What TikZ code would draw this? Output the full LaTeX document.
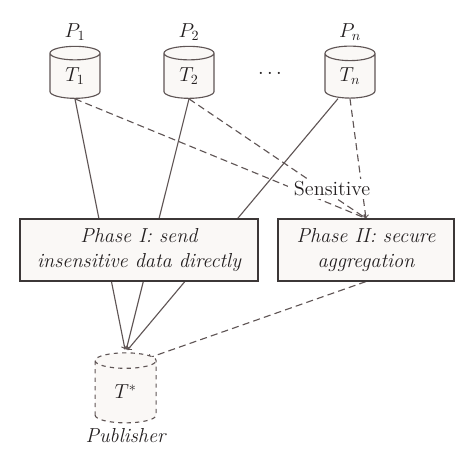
\documentclass[tikz,border=0pt]{standalone}
\usepackage{tikz}
\usetikzlibrary{shapes.geometric,positioning,arrows,calc}
\pgfdeclarelayer{background}
\pgfsetlayers{background,main}
\definecolor{linegray}{RGB}{95,85,85}
\definecolor{boxline}{RGB}{60,55,55}
\definecolor{boxfill}{RGB}{250,248,246}
\definecolor{inkdark}{RGB}{35,31,32}
\tikzset{
  db/.style={cylinder, shape border rotate=90, aspect=0.7, draw=linegray, fill=boxfill,
    minimum width=1.25cm, minimum height=1.3cm, inner sep=0pt, line width=0.8pt, text=inkdark},
  phase/.style={rectangle, draw=boxline, fill=boxfill, line width=0.8pt, align=center,
    font=\Large\itshape, text=inkdark, minimum height=1.55cm, inner sep=0pt},
  direct/.style={draw=linegray, line width=0.8pt, ->, shorten >=2pt},
  secret/.style={draw=linegray, line width=0.8pt, dash pattern=on 5pt off 3pt, ->}
}

\begin{document}
\begin{tikzpicture}[font=\Large]
\useasboundingbox (0,0) rectangle (11.85,11.85);
\node[db] at (1.875,9.95) (t1) {$T_1$};
\node[db] at (4.725,9.95) (t2) {$T_2$};
\node[db] at (8.75,9.95)  (tn) {$T_n$};
\node[text=inkdark] at (6.75,10.0) (dots) {$\cdots$};
\node[above=0pt of t1.north, text=inkdark] (p1) {$P_1$};
\node[above=0pt of t2.north, text=inkdark] (p2) {$P_2$};
\node[above=0pt of tn.north, text=inkdark] (pn) {$P_n$};
\node[phase, minimum width=5.95cm] at (3.475,5.6) (ph1) {Phase I: send\\insensitive data directly};
\node[phase, minimum width=4.4cm] at (9.15,5.6) (ph2) {Phase II: secure\\aggregation};
\node[fill=white, text=inkdark, inner xsep=4pt, inner ysep=2pt] at (8.3,7.125) (sens) {Sensitive};
\node[db, dashed, minimum width=1.525cm, minimum height=1.75cm] at (3.14,2.05) (ts) {$T^{*}$};
\node[below=0pt of ts, font=\Large\itshape, text=inkdark] (pub) {Publisher};

\begin{pgfonlayer}{background}
\draw[direct] (t1.south) -- (ts.north);
\draw[direct] (t2.south) -- (ts.north);
\draw[direct] ([xshift=-3mm]tn.south) -- (ts.north);
\draw[secret] (t1.south) -- (ph2.north);
\draw[secret] (t2.south) -- (ph2.north);
\draw[secret] (tn.south) -- (ph2.north);
\draw[secret] (ph2.south) -- ($(ts.north)+(0.55,-0.15)$);
\end{pgfonlayer}
\end{tikzpicture}
\end{document}
